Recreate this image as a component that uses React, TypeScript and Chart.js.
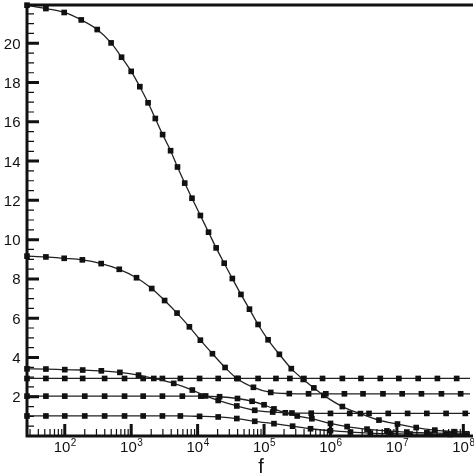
import { useEffect, useRef } from "react";
import { Chart, registerables } from "chart.js";

Chart.register(...registerables);

// frequency range of the plot (log axis) and value range
const X_MIN = 27;
const X_MAX = 1.26e8;
const Y_MAX = 21.95;

// curve 1 (starts ~21.9)
const curve1Freq = [27, 52, 98, 177, 308, 498, 716, 1000, 1349, 1795, 2307, 2972, 3917, 4977, 6397, 8222, 1.1e4, 1.46e4, 1.9e4, 2.51e4, 3.33e4, 4.49e4, 6.03e4, 8.13e4, 1.15e5, 1.7e5, 2.57e5, 3.89e5, 5.62e5, 7.94e5, 1.51e6, 2.82e6, 5.37e6, 1.02e7, 1.95e7, 3.72e7, 7.24e7, 1.26e8];
const curve1Val = [21.94, 21.77, 21.57, 21.19, 20.7, 20.02, 19.29, 18.57, 17.79, 16.97, 16.17, 15.35, 14.53, 13.7, 12.88, 12.11, 11.23, 10.38, 9.58, 8.8, 8.02, 7.21, 6.46, 5.68, 4.9, 4.16, 3.43, 2.88, 2.45, 2.07, 1.5, 1.14, 0.81, 0.61, 0.43, 0.3, 0.22, 0.18];

// curve 2 (starts ~9.1)
const curve2Freq = [27, 52, 98, 184, 353, 661, 1202, 2037, 3184, 4898, 7516, 1.1e4, 1.67e4, 2.59e4, 3.89e4, 6.92e4, 1.26e5, 2.4e5, 4.68e5, 8.51e5, 1.62e6, 3.09e6, 6.17e6, 1.2e7, 2.34e7, 4.68e7, 9.12e7, 1.26e8];
const curve2Val = [9.16, 9.12, 9.05, 8.97, 8.78, 8.49, 8.06, 7.51, 6.9, 6.26, 5.56, 4.88, 4.19, 3.49, 2.93, 2.48, 2.22, 2.16, 2.15, 2.15, 2.15, 2.15, 2.15, 2.15, 2.15, 2.15, 2.15, 2.15];

// curve 3 (starts ~3.4)
const curve3Freq = [27, 52, 100, 186, 355, 676, 1288, 2188, 4365, 8318, 1.32e4, 2.04e4, 3.89e4, 7.24e4, 1.35e5, 2.63e5, 5.13e5, 1e6, 1.95e6, 3.8e6, 7.41e6, 1.45e7, 2.82e7, 5.5e7, 1.07e8, 1.26e8];
const curve3Val = [3.42, 3.41, 3.38, 3.36, 3.32, 3.24, 3.1, 2.93, 2.68, 2.34, 2.04, 1.81, 1.53, 1.31, 1.22, 1.17, 1.16, 1.15, 1.15, 1.15, 1.15, 1.15, 1.15, 1.15, 1.15, 1.15];

// curve 4 (flat ~2.9)
const curve4Freq = [27, 52, 100, 186, 398, 794, 1514, 2951, 5495, 1.07e4, 2.04e4, 4.07e4, 8.13e4, 1.51e5, 2.45e5, 3.98e5, 7.59e5, 1.51e6, 2.88e6, 5.62e6, 1.07e7, 2.09e7, 4.07e7, 7.94e7, 1.26e8];
const curve4Val = [2.93, 2.93, 2.93, 2.93, 2.93, 2.93, 2.93, 2.93, 2.93, 2.93, 2.93, 2.93, 2.93, 2.93, 2.93, 2.93, 2.93, 2.93, 2.93, 2.93, 2.93, 2.93, 2.93, 2.93, 2.93];

// curve 5 (starts ~2.0)
const curve5Freq = [27, 52, 100, 200, 398, 794, 1514, 2951, 5888, 1.12e4, 2.14e4, 3.98e4, 6.61e4, 1e5, 1.41e5, 2.09e5, 3.16e5, 5.25e5, 1e6, 1.78e6, 3.55e6, 7.08e6, 1.41e7, 2.82e7, 5.62e7, 1.12e8, 1.26e8];
const curve5Val = [2.03, 2.03, 2.03, 2.03, 2.03, 2.03, 2.03, 2.03, 2.03, 2.03, 2.0, 1.91, 1.77, 1.59, 1.38, 1.18, 1.02, 0.88, 0.64, 0.48, 0.35, 0.26, 0.2, 0.16, 0.13, 0.11, 0.11];

// curve 6 (starts ~1.0)
const curve6Freq = [27, 52, 100, 200, 398, 794, 1514, 2951, 5495, 1.07e4, 2.04e4, 3.89e4, 7.24e4, 1.41e5, 2.69e5, 5.01e5, 1e6, 2e6, 3.98e6, 7.94e6, 1.58e7, 3.16e7, 6.31e7, 1.26e8];
const curve6Val = [1.02, 1.02, 1.02, 1.02, 1.02, 1.02, 1.02, 1.02, 1.02, 1.0, 0.97, 0.89, 0.75, 0.63, 0.5, 0.37, 0.27, 0.2, 0.15, 0.12, 0.1, 0.09, 0.08, 0.08];

// axis ticks
const xMajorTicks = [1e2, 1e3, 1e4, 1e5, 1e6, 1e7, 1e8];
const xTickExponents = ["2", "3", "4", "5", "6", "7", "8"];
const yTickLabels = [2, 4, 6, 8, 10, 12, 14, 16, 18, 20];
const xTitle = "f";

const FONT = '"Liberation Sans", Arial, Helvetica, sans-serif';
const INK = "#111";

const xMinorTicks: number[] = [];
for (let d = 10; d < X_MAX; d *= 10) {
  for (let m = 2; m <= 9; m++) {
    const v = m * d;
    if (v > X_MIN && v < X_MAX) xMinorTicks.push(v);
  }
}
const yMinorTicks: number[] = [];
for (let v = 0.5; v < Y_MAX; v += 0.5) {
  if (v % 2 !== 0) yMinorTicks.push(v);
}

const axisPlugin = {
  id: "tecplotAxes",
  afterDraw(chart: Chart) {
    const { ctx, chartArea: area } = chart;
    const xs = chart.scales.x;
    const ys = chart.scales.y;
    ctx.save();
    ctx.strokeStyle = INK;
    ctx.fillStyle = INK;

    // minor ticks (inward)
    ctx.lineWidth = 1.2;
    ctx.beginPath();
    xMinorTicks.forEach((v) => {
      const px = xs.getPixelForValue(v);
      ctx.moveTo(px, area.bottom);
      ctx.lineTo(px, area.bottom - 7);
    });
    yMinorTicks.forEach((v) => {
      const py = ys.getPixelForValue(v);
      ctx.moveTo(area.left, py);
      ctx.lineTo(area.left + 7, py);
    });
    ctx.stroke();

    // major ticks
    ctx.lineWidth = 3;
    ctx.beginPath();
    xMajorTicks.forEach((v) => {
      const px = xs.getPixelForValue(v);
      ctx.moveTo(px, area.bottom);
      ctx.lineTo(px, area.bottom - 12);
    });
    yTickLabels.forEach((v) => {
      const py = ys.getPixelForValue(v);
      ctx.moveTo(area.left, py);
      ctx.lineTo(area.left + 12, py);
    });
    ctx.stroke();

    // frame: top, left, bottom
    ctx.lineWidth = 3;
    ctx.beginPath();
    ctx.moveTo(area.right + 3, area.top);
    ctx.lineTo(area.left, area.top);
    ctx.lineTo(area.left, area.bottom);
    ctx.lineTo(area.right + 3, area.bottom);
    ctx.stroke();

    // y labels
    ctx.font = `15px ${FONT}`;
    ctx.textAlign = "right";
    ctx.textBaseline = "alphabetic";
    yTickLabels.forEach((v) => {
      const py = ys.getPixelForValue(v);
      ctx.fillText(String(v), area.left - 6.5, py + 5.4);
    });

    // x labels: 10 with superscript exponent
    ctx.textAlign = "left";
    xMajorTicks.forEach((v, i) => {
      const px = xs.getPixelForValue(v);
      ctx.font = `15px ${FONT}`;
      const wBase = ctx.measureText("10").width;
      ctx.font = `10px ${FONT}`;
      const wExp = ctx.measureText(xTickExponents[i]).width;
      const start = px - (wBase + wExp) / 2;
      ctx.font = `15px ${FONT}`;
      ctx.fillText("10", start, area.bottom + 16);
      ctx.font = `10px ${FONT}`;
      ctx.fillText(xTickExponents[i], start + wBase + 0.5, area.bottom + 10);
    });

    // axis title
    ctx.font = `20px ${FONT}`;
    ctx.textAlign = "center";
    ctx.fillText(xTitle, 261, area.bottom + 36.5);
    ctx.restore();
  },
};

const seriesList = [
  { freq: curve1Freq, val: curve1Val },
  { freq: curve2Freq, val: curve2Val },
  { freq: curve3Freq, val: curve3Val },
  { freq: curve4Freq, val: curve4Val },
  { freq: curve5Freq, val: curve5Val },
  { freq: curve6Freq, val: curve6Val },
];

export default function App() {
  const chartRef = useRef<HTMLCanvasElement>(null);
  const chartInstance = useRef<Chart | null>(null);

  useEffect(() => {
    if (!chartRef.current) return;
    const ctx = chartRef.current.getContext("2d");
    if (!ctx) return;

    if (chartInstance.current) {
      chartInstance.current.destroy();
    }

    const datasets = seriesList.map((s, idx) => ({
      label: `curve ${idx + 1}`,
      data: s.freq.map((f, i) => ({ x: f, y: s.val[i] })),
      borderColor: "#222",
      borderWidth: 1.3,
      cubicInterpolationMode: "monotone" as const,
      pointStyle: "rect" as const,
      pointRadius: (c: any) => (c.raw && c.raw.x >= X_MAX ? 0 : 4),
      pointBackgroundColor: INK,
      pointBorderWidth: 0,
      clip: false as const,
    }));

    chartInstance.current = new Chart(ctx, {
      type: "line",
      data: { datasets },
      options: {
        animation: false,
        responsive: true,
        maintainAspectRatio: false,
        events: [],
        layout: { padding: { left: 27, top: 5, right: 0, bottom: 38 } },
        plugins: {
          legend: { display: false },
          tooltip: { enabled: false },
        },
        scales: {
          x: { type: "logarithmic", min: X_MIN, max: X_MAX, display: false },
          y: { type: "linear", min: 0, max: Y_MAX, display: false },
        },
      },
      plugins: [axisPlugin],
    });

    return () => {
      if (chartInstance.current) {
        chartInstance.current.destroy();
        chartInstance.current = null;
      }
    };
  }, []);

  return (
    <div style={{ position: "fixed", left: 0, top: 0, width: 474, height: 474, background: "#fff" }}>
      <canvas ref={chartRef} />
    </div>
  );
}
